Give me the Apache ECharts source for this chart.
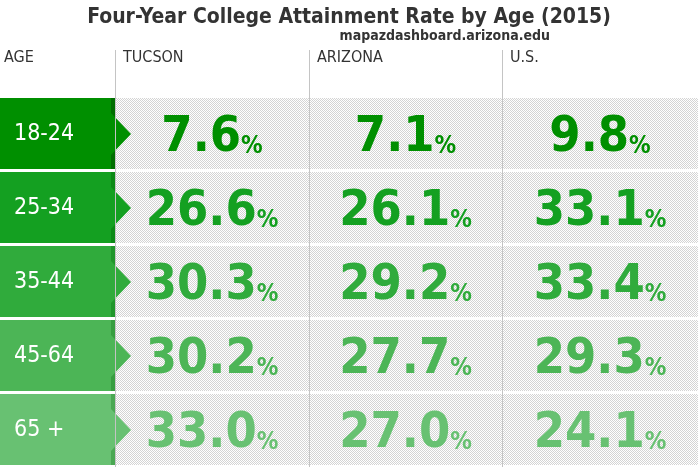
<!DOCTYPE html>
<html style="height: 100%">
<head>
<meta charset="utf-8">
<script src="https://cdn.jsdelivr.net/npm/echarts@6/dist/echarts.min.js"></script>
</head>
<body style="height: 100%; margin: 0">
<div id="container" style="width: 698px; height: 467px"></div>
<script type="text/javascript">
var ages = ['18-24', '25-34', '35-44', '45-64', '65 +'];
var places = ['TUCSON', 'ARIZONA', 'U.S.'];
var tucson = [7.6, 26.6, 30.3, 30.2, 33.0];
var arizona = [7.1, 26.1, 29.2, 27.7, 27.0];
var us = [9.8, 33.1, 33.4, 29.3, 24.1];
var rowColors = ['#008f00', '#14a021', '#30ab3c', '#4cb556', '#68c172'];
var edgeColors = ['#006e00', '#0c8a16', '#20962b', '#379e40', '#4aa853'];

var font = '"Liberation Sans Narrow", "DejaVu Sans Condensed", sans-serif';

// dotted background pattern
var pat = document.createElement('canvas');
pat.width = 2; pat.height = 2;
var pc = pat.getContext('2d');
pc.fillStyle = '#ffffff'; pc.fillRect(0, 0, 2, 2);
pc.fillStyle = '#d4d4d4'; pc.fillRect(0, 0, 1, 1); pc.fillRect(1, 1, 1, 1);

var cells = [];
[tucson, arizona, us].forEach(function (col, c) {
    col.forEach(function (v, r) { cells.push([c, r, v]); });
});

var dom = document.getElementById('container');
var myChart = echarts.init(dom);

var colLeft = [115, 309, 502];
var colRight = [309, 502, 698];

option = {
    backgroundColor: 'white',
    animation: false,
    title: [
        { text: 'Four-Year College Attainment Rate by Age (2015)', left: 'center', top: 2,
          textStyle: { fontFamily: font, fontSize: 21, fontWeight: 'bold', color: '#333' } },
        { text: 'mapazdashboard.arizona.edu', right: 143, top: 24,
          textStyle: { fontFamily: font, fontSize: 14, fontWeight: 'bold', color: '#333' } }
    ],
    grid: { left: 0, right: 0, top: 97, bottom: 0 },
    xAxis: { type: 'value', min: 0, max: 698, show: false },
    yAxis: { type: 'category', data: ages, inverse: true, show: false },
    graphic: [{ type: 'text', left: 4, top: 50, style: { text: 'AGE', fontFamily: font, fontSize: 16, fill: '#333' } }]
        .concat(places.map(function (p, i) {
            return { type: 'text', left: colLeft[i] + 8, top: 50,
                     style: { text: p, fontFamily: font, fontSize: 16, fill: '#333' } };
        }))
        .concat(colLeft.map(function (x) {
            return { type: 'line', z: 10, shape: { x1: x + 0.5, y1: 50, x2: x + 0.5, y2: 467 },
                     style: { stroke: '#c4c4c4', lineWidth: 1 } };
        })),
    series: [
        {
            type: 'custom',
            data: ages.map(function (a, i) { return [0, i]; }),
            renderItem: function (params, api) {
                var r = api.value(1);
                var c = api.coord([0, r]);
                var h = api.size([0, 1])[1];
                var top = c[1] - h / 2 + 1, bot = c[1] + h / 2 - 2;
                return { type: 'group', children: [
                    { type: 'rect', shape: { x: 115, y: top, width: 583, height: bot - top },
                      style: { fill: { image: pat, repeat: 'repeat' } } },
                    { type: 'rect', shape: { x: 110, y: top, width: 5, height: bot - top },
                      style: { fill: edgeColors[r] } },
                    { type: 'rect', shape: { x: 0, y: top, width: 111, height: bot - top },
                      style: { fill: rowColors[r] } },
                    { type: 'polygon', shape: { points: [[110, c[1] - 22], [131, c[1]], [110, c[1] + 22]] },
                      style: { fill: rowColors[r] } },
                    { type: 'text', x: 14, y: c[1], style: { text: ages[r], fontFamily: font, fontSize: 23,
                      fill: '#fff', verticalAlign: 'middle' } }
                ]};
            }
        },
        {
            type: 'custom',
            data: cells,
            z: 5,
            renderItem: function (params, api) {
                var col = api.value(0), r = api.value(1), v = api.value(2);
                var c = api.coord([0, r]);
                var cx = (colLeft[col] + colRight[col]) / 2;
                return { type: 'text', x: cx, y: c[1] + 4, style: {
                    text: '{n|' + v.toFixed(1) + '}{p|%}', align: 'center', verticalAlign: 'middle',
                    rich: {
                        n: { fontFamily: font, fontSize: 50, fontWeight: 'bold', fill: rowColors[r], color: rowColors[r], verticalAlign: 'bottom' },
                        p: { fontFamily: font, fontSize: 24, fontWeight: 'bold', fill: rowColors[r], color: rowColors[r], verticalAlign: 'bottom', padding: [0, 0, 4, 0] }
                    }
                }};
            }
        }
    ]
};
myChart.setOption(option, true);
</script>
</body>
</html>
